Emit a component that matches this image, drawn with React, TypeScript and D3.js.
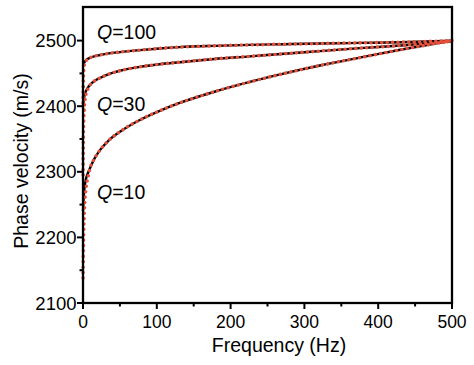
import { useMemo } from "react"
import * as d3 from "d3"

// frequencies (Hz) sampled along the curves
const freqs = [0, 1, 2, 4, 7, 10, 15, 23, 35, 50, 77, 104, 131, 178, 226, 273, 321, 375, 430, 500]

// black solid curves, phase velocity (m/s)
const q10Solid = [2240, 2262, 2275, 2289, 2299, 2307, 2319, 2333, 2348, 2361, 2379, 2393, 2405, 2422, 2437, 2450, 2462, 2474, 2486, 2500]
const q30Solid = [2400, 2410, 2416, 2423, 2429, 2433, 2438, 2443, 2449, 2454, 2460, 2464, 2467, 2472, 2476, 2480, 2484, 2488.5, 2492.5, 2499]
const q100Solid = [2460, 2465, 2467, 2470, 2472.5, 2474, 2476, 2478, 2480.5, 2482.5, 2485.5, 2488, 2490, 2492, 2493.5, 2494.5, 2495.5, 2496.5, 2497.5, 2500]

// red dotted curves drop further at the lowest frequencies
const lowFreqs = [0.1, 0.4, 0.8, 1.5, 2.5, 4, 7, 10]
const q10Low = [2138, 2170, 2200, 2230, 2255, 2274, 2293, 2307]
const q30Low = [2295, 2340, 2370, 2392, 2407, 2418, 2427, 2433]
const q100Low = [2405, 2435, 2452, 2461, 2466, 2469, 2472, 2474]

const xTicks = [0, 100, 200, 300, 400, 500]
const yTicks = [2100, 2200, 2300, 2400, 2500]

const qLabels = [
  { q: "100", v: 2500 },
  { q: "30", v: 2390 },
  { q: "10", v: 2256 },
]

const W = 474
const H = 365
const left = 83
const right = 452
const top = 7
const bottom = 303

const App = () => {
  const x = useMemo(() => d3.scaleLinear().domain([0, 500]).range([left, right]), [])
  const y = useMemo(() => d3.scaleLinear().domain([2100, 2500]).range([bottom, 40.6]), [])

  const line = d3.line<[number, number]>()
    .x(d => x(d[0]))
    .y(d => y(d[1]))
    .curve(d3.curveMonotoneX)

  const mains = [q10Solid, q30Solid, q100Solid]
  const solid = mains.map(vals => freqs.map((f, i) => [f, vals[i]] as [number, number]))
  const dotted = [q10Low, q30Low, q100Low].map((low, k) => {
    const head = lowFreqs.map((f, i) => [f, low[i]] as [number, number])
    const tail = freqs
      .map((f, i) => [f, mains[k][i]] as [number, number])
      .filter(d => d[0] > 10)
    return head.concat(tail)
  })

  const xMinor = d3.range(50, 500, 100)
  const yMinor = d3.range(2150, 2550, 100)
  const font = "'Liberation Sans', Arial, sans-serif"

  return (
    <svg width={W} height={H} style={{ position: "absolute", left: 0, top: 0, background: "#fff" }}>
      {solid.map((pts, i) => (
        <path key={"s" + i} d={line(pts) ?? ""} fill="none" stroke="#000" strokeWidth={2.4} />
      ))}
      {dotted.map((pts, i) => (
        <path key={"d" + i} d={line(pts) ?? ""} fill="none" stroke="#e8503c" strokeWidth={3.6}
          strokeDasharray="0 5.4" strokeLinecap="round" />
      ))}

      <rect x={left} y={top} width={right - left} height={bottom - top} fill="none" stroke="#000" strokeWidth={2.3} />

      {xTicks.map(t => (
        <g key={t} transform={`translate(${x(t)},${bottom})`}>
          <line y2={6} stroke="#000" strokeWidth={2} />
          <text y={25} textAnchor="middle" fontSize={17.5} fontFamily={font}>{t}</text>
        </g>
      ))}
      {xMinor.map(t => (
        <line key={t} x1={x(t)} x2={x(t)} y1={bottom} y2={bottom + 3.5} stroke="#000" strokeWidth={2} />
      ))}
      {yTicks.map(t => (
        <g key={t} transform={`translate(${left},${y(t)})`}>
          <line x2={-6} stroke="#000" strokeWidth={2} />
          <text x={-6} dx={-0.5} y={6.5} textAnchor="end" fontSize={18.5} fontFamily={font}>{t}</text>
        </g>
      ))}
      {yMinor.map(t => (
        <line key={t} y1={y(t)} y2={y(t)} x1={left} x2={left - 3.5} stroke="#000" strokeWidth={2} />
      ))}

      {qLabels.map(l => (
        <text key={l.q} x={97} y={y(l.v) - 1.5} fontSize={19.5} fontFamily={font}>
          <tspan fontStyle="italic">Q</tspan>={l.q}
        </text>
      ))}

      <text x={279} y={352} textAnchor="middle" fontSize={19.5} fontFamily={font}>Frequency (Hz)</text>
      <text transform="translate(28,161) rotate(-90)" textAnchor="middle" fontSize={19.5} fontFamily={font}>
        Phase velocity (m/s)
      </text>
    </svg>
  )
}

export default App
